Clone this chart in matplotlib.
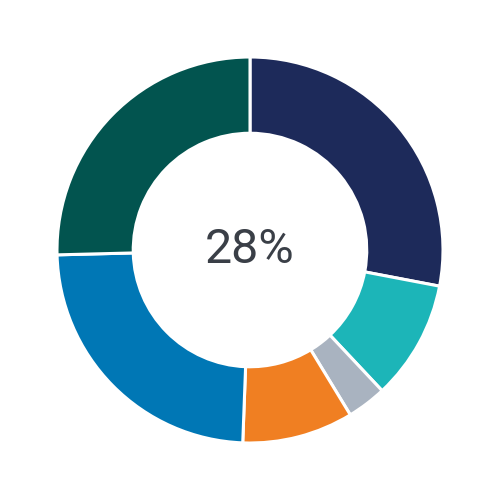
import matplotlib
matplotlib.use("Agg")
import matplotlib.pyplot as plt

labels = ["Navy", "Teal", "Gray", "Orange", "Blue", "Green"]
values = [28, 10, 3.3, 9.3, 24, 25.4]
colors = ["#1d2a5a", "#1cb5b8", "#a9b3c0", "#f07f22", "#0077b5", "#02544f"]
center_label = "28%"

fig = plt.figure(figsize=(5, 5), dpi=100)
ax = fig.add_axes([0, 0, 1, 1])
ax.pie(values, colors=colors, startangle=90, counterclock=False, radius=1,
       wedgeprops=dict(width=0.395, edgecolor="white", linewidth=2.2))
lim = 250 / 193
ax.set_xlim(-lim, lim)
ax.set_ylim(-lim, lim)
ax.set_aspect("equal")
ax.axis("off")
ax.text(0, -13 / 193, center_label, ha="center", va="baseline", fontsize=34.8,
        color="#3a3f47", family=["Roboto", "DejaVu Sans"])
fig.savefig("out.png", dpi=100, facecolor="white")
